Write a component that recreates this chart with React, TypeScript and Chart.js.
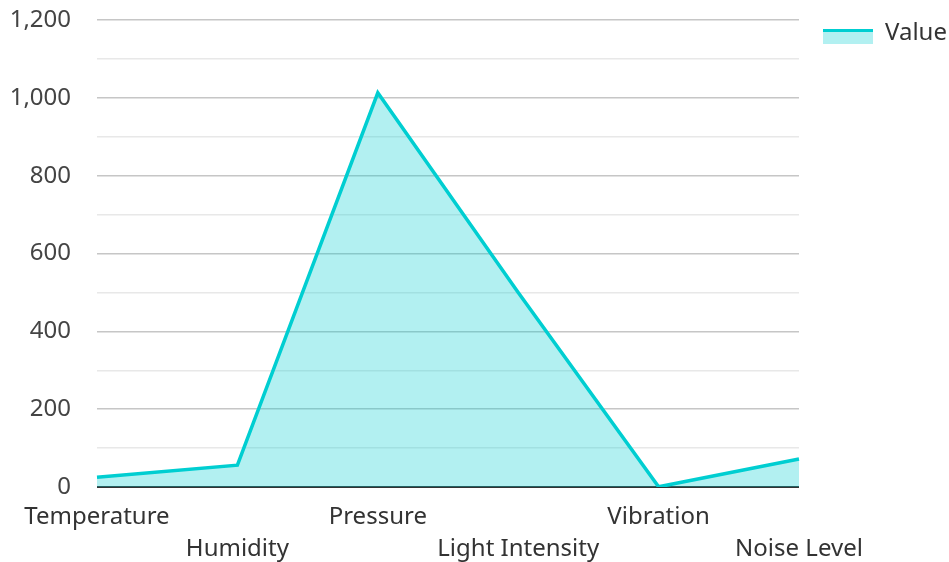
import React, { useEffect, useRef } from "react";
import { Chart, registerables } from "chart.js";

Chart.register(...registerables);

const categories = ["Temperature", "Humidity", "Pressure", "Light Intensity", "Vibration", "Noise Level"];
const values = [25, 56, 1013, 500, 0.5, 72];
const seriesLabel = "Value";
const yTicksMax = 1200;

const LINE = "#00CED1";
const FILL = "rgba(0,206,209,0.3)";

function makeLegendIcon(): HTMLCanvasElement {
  const c = document.createElement("canvas");
  c.width = 50;
  c.height = 22;
  const g = c.getContext("2d")!;
  g.fillStyle = FILL;
  g.fillRect(0, 10, 50, 12);
  g.fillStyle = LINE;
  g.fillRect(0, 7, 50, 3);
  return c;
}

export default function App() {
  const ref = useRef<HTMLCanvasElement | null>(null);

  useEffect(() => {
    document.body.style.margin = "0";
    if (!ref.current) return;
    const font = { family: "'Noto Sans', sans-serif", size: 24 };
    const chart = new Chart(ref.current, {
      type: "line",
      data: {
        labels: categories,
        datasets: [
          {
            label: seriesLabel,
            data: values,
            borderColor: LINE,
            backgroundColor: FILL,
            borderWidth: 3.5,
            fill: "origin",
            tension: 0,
            pointRadius: 0,
            pointHoverRadius: 0,
          },
        ],
      },
      options: {
        animation: false,
        responsive: false,
        maintainAspectRatio: false,
        layout: { padding: { top: -3, left: 0, right: 0, bottom: 0 } },
        plugins: {
          tooltip: { enabled: false },
          legend: {
            position: "right",
            align: "start",
            maxWidth: 150,
            labels: {
              usePointStyle: true,
              pointStyle: makeLegendIcon(),
              pointStyleWidth: 50,
              boxHeight: 12,
              padding: 24,
              color: "#333",
              font: { ...font, lineHeight: "12px" },
            },
          },
        },
        scales: {
          x: {
            offset: false,
            grid: { display: false },
            border: { display: false },
            afterFit: (s: any) => {
              s.height = 75;
            },
            ticks: {
              autoSkip: false,
              maxRotation: 0,
              minRotation: 0,
              padding: 6,
              color: "#333",
              font: { ...font, lineHeight: "32px" },
              callback: (_v: any, i: number) => (i % 2 === 1 ? ["", categories[i]] : categories[i]),
            },
          },
          y: {
            min: 0,
            max: yTicksMax,
            border: { display: false },
            afterFit: (s: any) => {
              s.width = 97;
              s.paddingTop = 20;
              s.paddingBottom = 0;
            },
            grid: {
              drawTicks: false,
              lineWidth: (c: any) => (c.tick && c.tick.value === 0 ? 2 : 1.5),
              color: (c: any) =>
                c.tick && c.tick.value === 0 ? "#333" : c.tick && c.tick.value % 200 === 0 ? "#c6c6c6" : "#e8e8e8",
            },
            ticks: {
              stepSize: 100,
              padding: 26,
              color: "#444",
              font,
              callback: (v: any) => (Number(v) % 200 === 0 ? Number(v).toLocaleString("en-US") : ""),
            },
          },
        },
      },
    });
    return () => chart.destroy();
  }, []);

  return (
    <div style={{ width: 949, height: 562 }}>
      <canvas ref={ref} width={949} height={562} style={{ display: "block" }} />
    </div>
  );
}
